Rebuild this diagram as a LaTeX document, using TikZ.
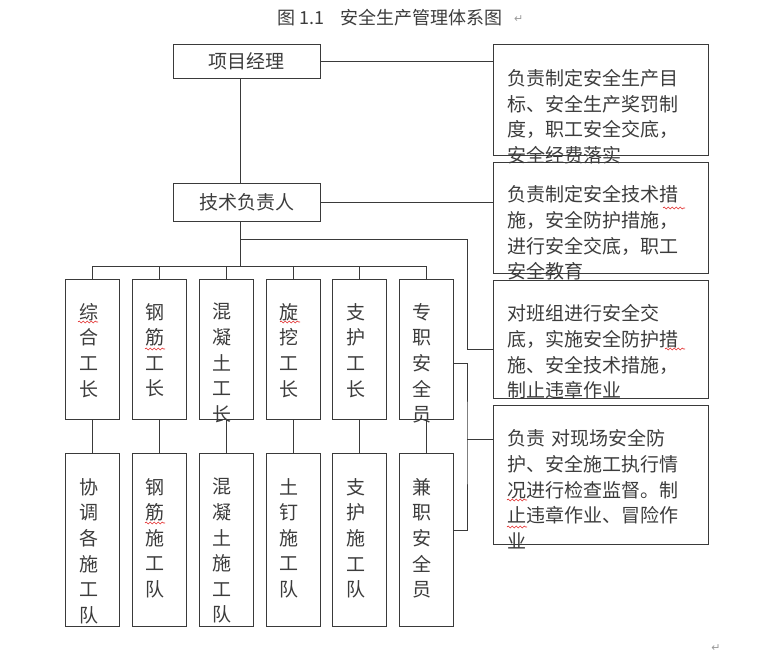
\documentclass[tikz,border=0pt]{standalone}
\usepackage{fontspec}
\usepackage{xcolor}
\usepackage{tikz}
\usetikzlibrary{positioning,calc,decorations.pathmorphing}
\setmainfont{Noto Sans CJK SC}
\newfontfamily\symfont{DejaVu Sans}
\definecolor{linegray}{HTML}{3A3A3A}
\definecolor{txtgray}{HTML}{3C3C3C}
\definecolor{markgray}{HTML}{9A9A9A}
\definecolor{spellred}{HTML}{E22B2B}

\begin{document}
\begin{tikzpicture}[x=1pt,y=-1pt, font=\fontsize{19}{25.6}\selectfont, text=txtgray,
  box/.style={draw=linegray, line width=0.9pt, inner sep=0pt},
  hbox/.style={box, minimum width=147pt},
  rbox/.style={box, minimum width=215pt},
  ubox/.style={box, minimum width=54pt, minimum height=140pt},
  lbox/.style={box, minimum width=54pt, minimum height=173pt},
  rtxt/.style={anchor=north west, inner sep=0pt, align=left},
  vtxt/.style={anchor=north, inner sep=0pt, align=center},
  link/.style={draw=linegray, line width=0.9pt},
  squig/.style={draw=spellred, line width=0.6pt, decorate,
    decoration={snake, segment length=4pt, amplitude=1pt}}]
  \useasboundingbox (0,0) rectangle (760,657);
  \node[inner sep=0pt, font=\fontsize{18}{20}\selectfont] (title) at (390,18) {图 1.1\hspace{0.9em}安全生产管理体系图};
  \node[anchor=west, inner sep=0pt, text=markgray, font=\symfont\fontsize{11}{12}\selectfont] (titlemark) at (514,19) {↵};
  \node[inner sep=0pt, text=markgray, font=\symfont\fontsize{11}{12}\selectfont] (endmark) at (716,648) {↵};
  \node[hbox, minimum height=34pt] (pm) at (246.5,61) {项目经理};
  \node[hbox, minimum height=38pt] (tl) at (246.5,202) {技术负责人};
  \node[rbox, minimum height=111pt] (r1) at (600.5,99.5) {};
  \node[rbox, minimum height=111pt] (r2) at (600.5,217.5) {};
  \node[rbox, minimum height=118pt] (r3) at (600.5,339) {};
  \node[rbox, minimum height=139pt] (r4) at (600.5,474.5) {};
  \node[rtxt] (r1t) at ($(r1.north west)+(15,25.5)$) {负责制定安全生产目\\标、安全生产奖罚制\\度，职工安全交底，\\安全经费落实};
  \node[rtxt] (r2t) at ($(r2.north west)+(15,24)$) {负责制定安全技术措\\施，安全防护措施，\\进行安全交底，职工\\安全教育};
  \node[rtxt] (r3t) at ($(r3.north west)+(15,25)$) {对班组进行安全交\\底，实施安全防护措\\施、安全技术措施，\\制止违章作业};
  \node[rtxt] (r4t) at ($(r4.north west)+(15,25)$) {负责\hspace{0.3em}对现场安全防\\护、安全施工执行情\\况进行检查监督。制\\止违章作业、冒险作\\业};
  \foreach \i/\t in {1/{综\\合\\工\\长}, 2/{钢\\筋\\工\\长}, 3/{混\\凝\\土\\工\\长}, 4/{旋\\挖\\工\\长}, 5/{支\\护\\工\\长}, 6/{专\\职\\安\\全\\员}} {
    \node[ubox] (u\i) at (92.7+66.75*\i-66.75,349) {};
    \node[vtxt] (ut\i) at ($(u\i.north)+(-4,24.5)$) {\t};
  }
  \foreach \i/\t in {1/{协\\调\\各\\施\\工\\队}, 2/{钢\\筋\\施\\工\\队}, 3/{混\\凝\\土\\施\\工\\队}, 4/{土\\钉\\施\\工\\队}, 5/{支\\护\\施\\工\\队}, 6/{兼\\职\\安\\全\\员}} {
    \node[lbox] (l\i) at (92.7+66.75*\i-66.75,540) {};
    \node[vtxt] (lt\i) at ($(l\i.north)+(-4,25)$) {\t};
    \draw[link] (u\i.south) -- (l\i.north);
    \draw[link] (u\i.north) -- ++(0,-12.6);
  }
  \coordinate (sp) at (240,239);
  \coordinate (bus) at (240,266.7);
  \coordinate (k3) at (467,349);
  \coordinate (k4) at (467,439);
  \draw[link] (pm.east) -- (pm.east -| r1.west);
  \draw[link] (tl.east) -- (tl.east -| r2.west);
  \draw[link] (sp |- pm.south) -- (sp |- tl.north);
  \draw[link] (sp |- tl.south) -- (bus);
  \draw[link] (u1.north |- bus) -- (u6.north |- bus);
  \draw[link] (sp) -| (k3) -- (k3 -| r3.west);
  \draw[link] ([yshift=-14pt]u6.east) -| (k4) |- ([yshift=10pt]l6.east);
  \draw[link] (k4) -- (k4 -| r4.west);
  \draw[squig] (78,322) -- (98,322);
  \draw[squig] (145,349) -- (165,349);
  \draw[squig] (280,322) -- (300,322);
  \draw[squig] (145,523) -- (165,523);
  \draw[squig] (663,208) -- (685,208);
  \draw[squig] (665,349) -- (685,349);
  \draw[squig] (507,500) -- (527,500);
  \draw[squig] (507,527) -- (527,527);
\end{tikzpicture}
\end{document}
